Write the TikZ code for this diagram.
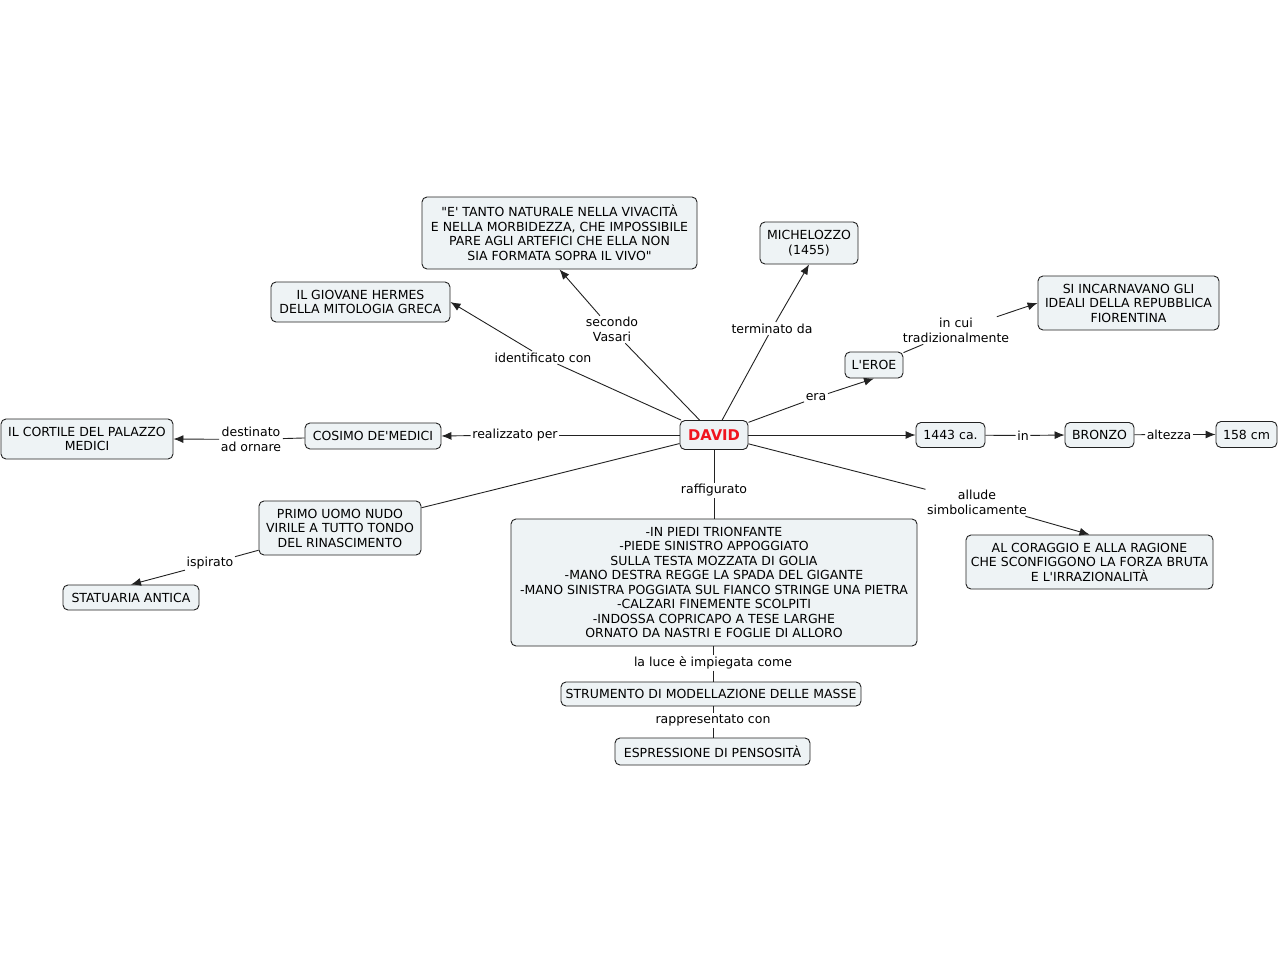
\documentclass[tikz,border=0pt]{standalone}
\usepackage{fontspec}
\setmainfont{DejaVu Sans}[Ligatures=TeXOff]
\usetikzlibrary{arrows.meta}
\definecolor{boxfill}{HTML}{EEF3F5}
\definecolor{edge}{HTML}{222222}
\definecolor{davidred}{HTML}{F0141E}
\begin{document}
\begin{tikzpicture}[x=1pt,y=-1pt,
  box/.style={draw=edge, fill=boxfill, rounded corners=5pt, line width=0.9pt,
    align=center, inner sep=1pt, font=\fontsize{12.5}{14.5}\selectfont},
  lbl/.style={align=center, inner sep=1.5pt, font=\fontsize{12.5}{14.5}\selectfont},
  conn/.style={draw=edge, line width=0.9pt},
  arr/.style={conn, -{Latex[length=10pt,width=8pt]}}]
\useasboundingbox (0,0) rectangle (1280,963);
\fill[white] (0,0) rectangle (1280,963);
% nodes
\node[box, minimum width=68pt, minimum height=29pt, font=\fontsize{14.8}{16}\selectfont\bfseries, text=davidred] (david) at (714,435) {DAVID};
\node[box, minimum width=136pt, minimum height=26pt] (cosimo) at (373,436) {COSIMO DE'MEDICI};
\node[box, minimum width=172pt, minimum height=40pt] (cortile) at (87,439) {IL CORTILE DEL PALAZZO\\MEDICI};
\node[box, minimum width=179pt, minimum height=40pt] (hermes) at (360.5,302) {IL GIOVANE HERMES\\DELLA MITOLOGIA GRECA};
\node[box, minimum width=275pt, minimum height=72pt] (quote) at (559.5,233) {"E' TANTO NATURALE NELLA VIVACITÀ\\E NELLA MORBIDEZZA, CHE IMPOSSIBILE\\PARE AGLI ARTEFICI CHE ELLA NON\\SIA FORMATA SOPRA IL VIVO"};
\node[box, minimum width=98pt, minimum height=42pt] (mich) at (809,243) {MICHELOZZO\\(1455)};
\node[box, minimum width=181pt, minimum height=54pt] (si) at (1128.5,303) {SI INCARNAVANO GLI\\IDEALI DELLA REPUBBLICA\\FIORENTINA};
\node[box, minimum width=58pt, minimum height=26pt] (eroe) at (874,365) {L'EROE};
\node[box, minimum width=69pt, minimum height=25pt] (anno) at (950.5,435) {1443 ca.};
\node[box, minimum width=69pt, minimum height=25pt] (bronzo) at (1099.5,435) {BRONZO};
\node[box, minimum width=61pt, minimum height=26pt] (alt) at (1246.5,434.5) {158 cm};
\node[box, minimum width=247pt, minimum height=54pt] (corag) at (1089.5,562) {AL CORAGGIO E ALLA RAGIONE\\CHE SCONFIGGONO LA FORZA BRUTA\\E L'IRRAZIONALITÀ};
\node[box, minimum width=162pt, minimum height=54pt] (primo) at (340,528) {PRIMO UOMO NUDO\\VIRILE A TUTTO TONDO\\DEL RINASCIMENTO};
\node[box, minimum width=136pt, minimum height=25pt] (stat) at (131,597.5) {STATUARIA ANTICA};
\node[box, minimum width=406pt, minimum height=127pt] (big) at (714,582.5) {-IN PIEDI TRIONFANTE\\-PIEDE SINISTRO APPOGGIATO\\SULLA TESTA MOZZATA DI GOLIA\\-MANO DESTRA REGGE LA SPADA DEL GIGANTE\\-MANO SINISTRA POGGIATA SUL FIANCO STRINGE UNA PIETRA\\-CALZARI FINEMENTE SCOLPITI\\-INDOSSA COPRICAPO A TESE LARGHE\\ORNATO DA NASTRI E FOGLIE DI ALLORO};
\node[box, minimum width=300pt, minimum height=24pt] (strum) at (711,694) {STRUMENTO DI MODELLAZIONE DELLE MASSE};
\node[box, minimum width=195pt, minimum height=27pt] (espr) at (712.5,751.5) {ESPRESSIONE DI PENSOSITÀ};
% labels
\node[lbl] (lreal) at (515,435) {realizzato per};
\node[lbl] (ldest) at (251,439.5) {destinato\\ad ornare};
\node[lbl] (lident) at (543,357.5) {identificato con};
\node[lbl] (lsec) at (612,329.5) {secondo\\Vasari};
\node[lbl] (lterm) at (772,328.5) {terminato da};
\node[lbl] (lera) at (816,397.5) {era};
\node[lbl] (lcui) at (956,330.5) {in cui\\tradizionalmente};
\node[lbl] (lin) at (1023,435.5) {in};
\node[lbl] (lalt) at (1169,434.5) {altezza};
\node[lbl] (lall) at (977,502.5) {allude\\simbolicamente};
\node[lbl] (lraff) at (714,490.5) {raffigurato};
\node[lbl] (lisp) at (210,563.5) {ispirato};
\node[lbl] (lluce) at (713,662.5) {la luce è impiegata come};
\node[lbl] (lrapp) at (713,720.5) {rappresentato con};
% connectors
\draw[conn] (david) -- (lreal); \draw[arr] (lreal) -- (cosimo.east);
\draw[conn] (cosimo) -- (ldest); \draw[arr] (ldest) -- (cortile.east);
\draw[conn] (david) -- (lident); \draw[arr] (lident) -- (hermes.east);
\draw[conn] (david) -- (lsec); \draw[arr] (lsec) -- (quote.south);
\draw[conn] (david) -- (lterm); \draw[arr] (lterm) -- (mich.south);
\draw[conn] (david) -- (lera); \draw[arr] (lera) -- (eroe.south);
\draw[conn] (eroe) -- (lcui); \draw[arr] (lcui) -- (si.west);
\draw[arr] (david) -- (anno.west);
\draw[conn] (anno) -- (lin); \draw[arr] (lin) -- (bronzo.west);
\draw[conn] (bronzo) -- (lalt); \draw[arr] (lalt) -- (alt.west);
\draw[conn] (david) -- (lall); \draw[arr] (lall) -- (corag.north);
\draw[conn] (david) -- (primo);
\draw[conn] (primo) -- (lisp); \draw[arr] (lisp) -- (stat.north);
\draw[conn] (david) -- (lraff); \draw[conn] (lraff) -- (big);
\draw[conn] (lluce |- big.south) -- (lluce.north); \draw[conn] (lluce.south) -- (lluce |- strum.north);
\draw[conn] (lrapp |- strum.south) -- (lrapp.north); \draw[conn] (lrapp.south) -- (lrapp |- espr.north);
\end{tikzpicture}
\end{document}
